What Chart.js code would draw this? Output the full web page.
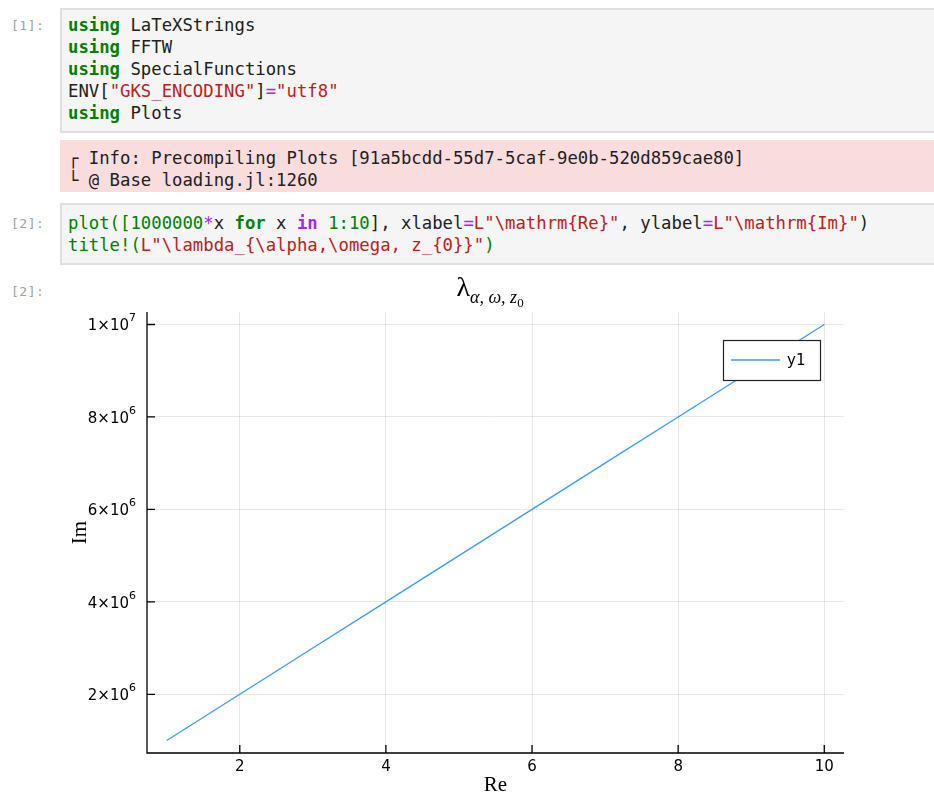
<!DOCTYPE html>
<html>
<head>
<meta charset="utf-8">
<script src="https://cdn.jsdelivr.net/npm/chart.js@4"></script>
<style>
  html, body { margin: 0; padding: 0; background: #fff; }
  body { width: 934px; height: 812px; position: relative; overflow: hidden; }
  .prompt { position: absolute; left: 11px; font-family: "DejaVu Sans Mono", monospace; font-size: 13px; line-height: 16px; color: #a0a0a0; letter-spacing: 0.5px; }
  .cell { position: absolute; left: 60px; right: 0; box-sizing: border-box; background: #f5f5f5; border: 2px solid #e0e0e0; border-right: none; }
  .err { position: absolute; left: 60px; right: 0; box-sizing: border-box; background: #f9dddd; }
  pre { margin: 0; font-family: "DejaVu Sans Mono", monospace; font-size: 17.3px; line-height: 22px; color: #212121; }
  .kw { color: #008000; font-weight: bold; }
  .kp { color: #aa22ff; font-weight: bold; }
  .st { color: #ba2121; }
  .op { color: #aa22ff; }
  .nu { color: #008000; }
  .fn { color: #008000; }
  #plotTitle { position: absolute; left: 390px; width: 200px; top: 271px; text-align: center; font-family: "Liberation Serif", serif; font-size: 28px; line-height: 32px; color: #000; }
  #plotTitle .sub { font-style: italic; font-size: 18px; position: relative; top: 7px; }
  #plotTitle .sub2 { font-style: normal; font-size: 13px; position: relative; top: 4px; }
  #wrap { position: absolute; left: 0; top: 270px; width: 934px; height: 542px; }
</style>
</head>
<body>
<div class="prompt" style="top:18px">[1]:</div>
<div class="cell" style="top:8px; height:125px; padding:4px 0 0 6px;">
<pre><span class="kw">using</span> LaTeXStrings
<span class="kw">using</span> FFTW
<span class="kw">using</span> SpecialFunctions
ENV[<span class="st">"GKS_ENCODING"</span>]<span class="op">=</span><span class="st">"utf8"</span>
<span class="kw">using</span> Plots</pre>
</div>
<div class="err" style="top:140px; height:52px; padding:7px 0 0 8px;">
<pre>┌ Info: Precompiling Plots [91a5bcdd-55d7-5caf-9e0b-520d859cae80]
└ @ Base loading.jl:1260</pre>
</div>
<div class="prompt" style="top:216px">[2]:</div>
<div class="cell" style="top:203px; height:62px; padding:7px 0 0 6px;">
<pre><span class="fn">plot([</span><span class="nu">1000000</span><span class="op">*</span>x <span class="kw">for</span> x <span class="kp">in</span> <span class="nu">1:10</span>], xlabel<span class="op">=</span><span class="st">L"\mathrm{Re}"</span>, ylabel<span class="op">=</span><span class="st">L"\mathrm{Im}"</span>)
<span class="fn">title!(</span><span class="st">L"\lambda_{\alpha,\omega, z_{0}}"</span><span class="fn">)</span></pre>
</div>
<div class="prompt" style="top:284px">[2]:</div>
<div id="wrap"><canvas id="plot" width="934" height="542"></canvas></div>
<div id="plotTitle">λ<span class="sub">α, ω, z<span class="sub2">0</span></span></div>

<script>
// data
const xValues = [1, 2, 3, 4, 5, 6, 7, 8, 9, 10];
const yValues = [1000000, 2000000, 3000000, 4000000, 5000000, 6000000, 7000000, 8000000, 9000000, 10000000];
const seriesName = 'y1';

const xTicks = [2, 4, 6, 8, 10];
const yTicks = [2000000, 4000000, 6000000, 8000000, 10000000];
const yTickLabels = ['2×10^6', '4×10^6', '6×10^6', '8×10^6', '1×10^7'];

const tickFont = { family: 'DejaVu Sans', size: 15 };
const gridColor = 'rgba(0,0,0,0.09)';

// axis frame with inward ticks (GR style), plus y labels with raised exponent
const axesPlugin = {
  id: 'grAxes',
  beforeDatasetsDraw(chart) {
    const { ctx, chartArea: a, scales } = chart;
    ctx.save();
    ctx.strokeStyle = '#000';
    ctx.lineWidth = 1.3;
    ctx.beginPath();
    ctx.moveTo(a.left, a.top); ctx.lineTo(a.left, a.bottom); ctx.lineTo(a.right, a.bottom);
    xTicks.forEach(v => { const px = scales.x.getPixelForValue(v); ctx.moveTo(px, a.bottom); ctx.lineTo(px, a.bottom - 8); });
    yTicks.forEach(v => { const py = scales.y.getPixelForValue(v); ctx.moveTo(a.left, py); ctx.lineTo(a.left + 8, py); });
    ctx.stroke();

    ctx.fillStyle = '#000';
    ctx.textBaseline = 'alphabetic';
    yTicks.forEach((v, i) => {
      const py = scales.y.getPixelForValue(v);
      const [base, exp] = yTickLabels[i].split('^');
      ctx.font = '11px "DejaVu Sans"';
      const ew = ctx.measureText(exp).width;
      ctx.font = '15px "DejaVu Sans"';
      const bw = ctx.measureText(base).width;
      const right = a.left - 11;
      ctx.fillText(base, right - ew - bw, py + 6);
      ctx.font = '11px "DejaVu Sans"';
      ctx.fillText(exp, right - ew, py - 3);
    });
    ctx.restore();
  }
};

const legendPlugin = {
  id: 'grLegend',
  afterDraw(chart) {
    const { ctx, chartArea: a } = chart;
    const ds = chart.data.datasets[0];
    const x0 = a.right - 121, y0 = a.top + 28, w = 97, h = 40;
    ctx.save();
    ctx.fillStyle = '#fff';
    ctx.fillRect(x0, y0, w, h);
    ctx.strokeStyle = '#222';
    ctx.lineWidth = 1.2;
    ctx.strokeRect(x0 + 0.5, y0 + 0.5, w, h);
    ctx.strokeStyle = ds.borderColor;
    ctx.lineWidth = ds.borderWidth;
    ctx.beginPath();
    ctx.moveTo(x0 + 8, y0 + h / 2); ctx.lineTo(x0 + 57, y0 + h / 2);
    ctx.stroke();
    ctx.fillStyle = '#000';
    ctx.font = '15px "DejaVu Sans"';
    ctx.textBaseline = 'middle';
    ctx.fillText(ds.label, x0 + 64, y0 + h / 2 + 1);
    ctx.restore();
  }
};

new Chart(document.getElementById('plot'), {
  type: 'scatter',
  data: {
    datasets: [{
      label: seriesName,
      data: xValues.map((x, i) => ({ x, y: yValues[i] })),
      showLine: true,
      borderColor: '#3a9cf2',
      borderWidth: 1.3,
      pointRadius: 0,
      tension: 0
    }]
  },
  plugins: [axesPlugin, legendPlugin],
  options: {
    responsive: false,
    animation: false,
    layout: { padding: { top: 42, right: 90, left: 0, bottom: 0 } },
    plugins: { legend: { display: false }, tooltip: { enabled: false } },
    scales: {
      x: {
        type: 'linear', min: 0.73, max: 10.27,
        afterBuildTicks: s => { s.ticks = xTicks.map(v => ({ value: v })); },
        afterFit: s => { s.height = 59; },
        grid: { color: gridColor, drawTicks: false },
        border: { display: false },
        ticks: { font: tickFont, color: '#000', padding: 5, maxRotation: 0, autoSkip: false },
        title: { display: true, text: 'Re', color: '#000', font: { family: 'Liberation Serif', size: 21 }, padding: { top: 0, bottom: 14 } }
      },
      y: {
        type: 'linear', min: 730000, max: 10270000,
        afterBuildTicks: s => { s.ticks = yTicks.map(v => ({ value: v })); },
        afterFit: s => { s.width = 147; },
        grid: { color: gridColor, drawTicks: false },
        border: { display: false },
        ticks: { display: false },
        title: { display: true, text: 'Im', color: '#000', font: { family: 'Liberation Serif', size: 21 }, padding: { top: 68, bottom: 0 } }
      }
    }
  }
});
</script>
</body>
</html>
